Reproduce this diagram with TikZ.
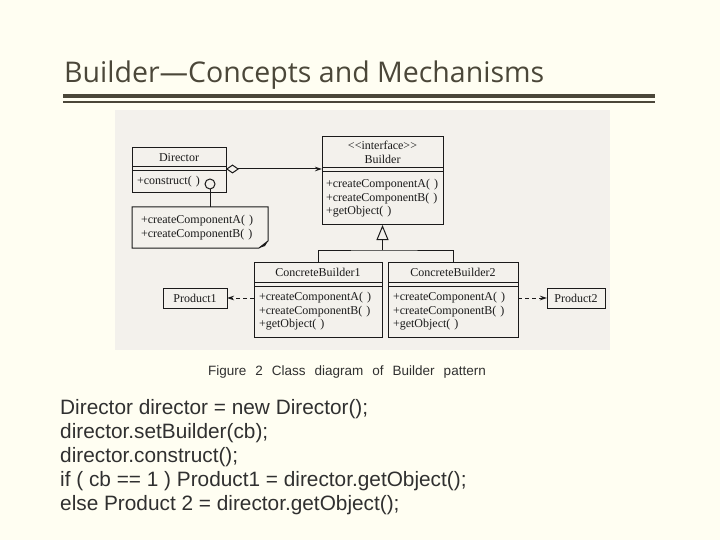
\documentclass[tikz,border=0pt]{standalone}
\usepackage{fontspec}
\setmainfont{Liberation Serif}
\newfontfamily\titlefont{Open Sans}
\newfontfamily\codefont{Liberation Sans}
\usetikzlibrary{positioning,arrows.meta}

\definecolor{slidebg}{HTML}{FFFEF2}
\definecolor{titlecol}{HTML}{4B4739}
\definecolor{scanbg}{HTML}{F3F1EC}
\definecolor{ink}{HTML}{1A1A1A}
\definecolor{codecol}{HTML}{303030}
\newcommand{\capgap}{\hspace{9pt}}

\begin{document}
\begin{tikzpicture}[
    x=1pt, y=-1pt,
    node distance=0pt,
    cls/.style={draw=ink, line width=1pt, outer sep=0pt, inner sep=0pt,
        text=ink, font=\fontsize{12}{13.5}\selectfont},
    clsname/.style={cls, align=center},
    clsattr/.style={cls, minimum height=4},
    clsmeth/.style={cls, align=left, inner xsep=5pt},
    prodbox/.style={cls, minimum height=20},
    link/.style={draw=ink, line width=1pt},
    dep/.style={link, dashed, dash pattern=on 4pt off 3pt, -{Stealth[length=7pt, width=4.5pt]}}
]
% slide
\fill[slidebg] (0,0) rectangle (720,540);
\useasboundingbox (0,0) rectangle (720,540);
\node[anchor=base west, inner sep=0pt, text=titlecol, font=\titlefont\fontsize{28.5}{30}\selectfont]
    (title) at (64,83) {Builder—Concepts and Mechanisms};
\draw[titlecol, line width=4pt] (63,96) -- (655,96);
\draw[titlecol, line width=2pt] (63,102.5) -- (655,102.5);

% scanned figure
\fill[scanbg] (115,110) rectangle (610,350);

% Director
\node[clsname, minimum width=94, minimum height=19] (dirname) at (179,157.5) {Director};
\node[clsattr, minimum width=94, below=of dirname] (dirattr) {};
\node[clsmeth, text width=84, minimum height=22, below=of dirattr] (dirmeth) {+construct( )};
\node[circle, draw=ink, line width=1pt, minimum size=10pt, inner sep=0pt] (hook) at (210,184) {};

% note
\node[cls, draw=none, align=left, inner xsep=9pt, text width=118, minimum height=41] (note) at (200,227.5)
    {+createComponentA( )\\+createComponentB( )};
\draw[link] (note.north west) -- (note.north east) -- ([yshift=7pt]note.south east)
    -- ([xshift=-9pt]note.south east) -- (note.south west) -- cycle;
\fill[ink] ([xshift=-9pt]note.south east) -- ([yshift=7pt]note.south east)
    -- ([xshift=-3pt, yshift=2pt]note.south east) -- cycle;

% Builder
\node[clsname, minimum width=121, minimum height=31] (bldname) at (382.5,152.5)
    {<\kern0pt<interface>\kern0pt>\\Builder};
\node[clsattr, minimum width=121, below=of bldname] (bldattr) {};
\node[clsmeth, text width=113, inner xsep=4pt, minimum height=53, below=of bldattr] (bldmeth)
    {+createComponentA( )\\+createComponentB( )\\+getObject( )};

% ConcreteBuilder1
\node[clsname, minimum width=128, minimum height=20] (cbonename) at (318,272) {ConcreteBuilder1};
\node[clsattr, minimum width=128, below=of cbonename] (cboneattr) {};
\node[clsmeth, text width=118, minimum height=51, below=of cboneattr] (cbonemeth)
    {+createComponentA( )\\+createComponentB( )\\+getObject( )};

% ConcreteBuilder2
\node[clsname, minimum width=130, minimum height=20] (cbtwoname) at (453,272) {ConcreteBuilder2};
\node[clsattr, minimum width=130, below=of cbtwoname] (cbtwoattr) {};
\node[clsmeth, text width=120, minimum height=51, below=of cbtwoattr] (cbtwometh)
    {+createComponentA( )\\+createComponentB( )\\+getObject( )};

% products
\node[prodbox, minimum width=64] (prodone) at (195,298) {Product1};
\node[prodbox, minimum width=58] (prodtwo) at (576,298) {Product2};

% connectors
\draw[link, {Diamond[open, length=13pt, width=9pt]}-{Stealth[length=7pt, width=4.5pt]}]
    (dirattr.east) -- (dirattr.east -| bldattr.west);
\draw[link] (hook) -- (hook |- note.north);
\coordinate (join) at ([yshift=-25pt]bldmeth.south);
\draw[link] (cbonename.north) |- (join) -| (cbtwoname.north);
\draw[link, -{Triangle[open, length=15pt, width=12pt]}] (join) -- (bldmeth.south);
\draw[dep] (cbonemeth.west |- prodone.east) -- (prodone.east);
\draw[dep] (cbtwometh.east |- prodtwo.west) -- (prodtwo.west);

% caption and code
\node[text=codecol, font=\codefont\fontsize{13.5}{15}\selectfont] (caption) at (347,372)
    {Figure\capgap 2\capgap Class\capgap diagram\capgap of\capgap Builder\capgap pattern};
\foreach \line [count=\i from 0] in {
    {Director director = new Director();},
    {director.setBuilder(cb);},
    {director.construct();},
    {if ( cb == 1 ) Product1 = director.getObject();},
    {else Product 2 = director.getObject();}}
  \node[anchor=base west, inner sep=0pt, text=codecol, font=\codefont\fontsize{20.8}{24}\selectfont]
    (code\i) at (60,414+24*\i) {\line};
\end{tikzpicture}
\end{document}
